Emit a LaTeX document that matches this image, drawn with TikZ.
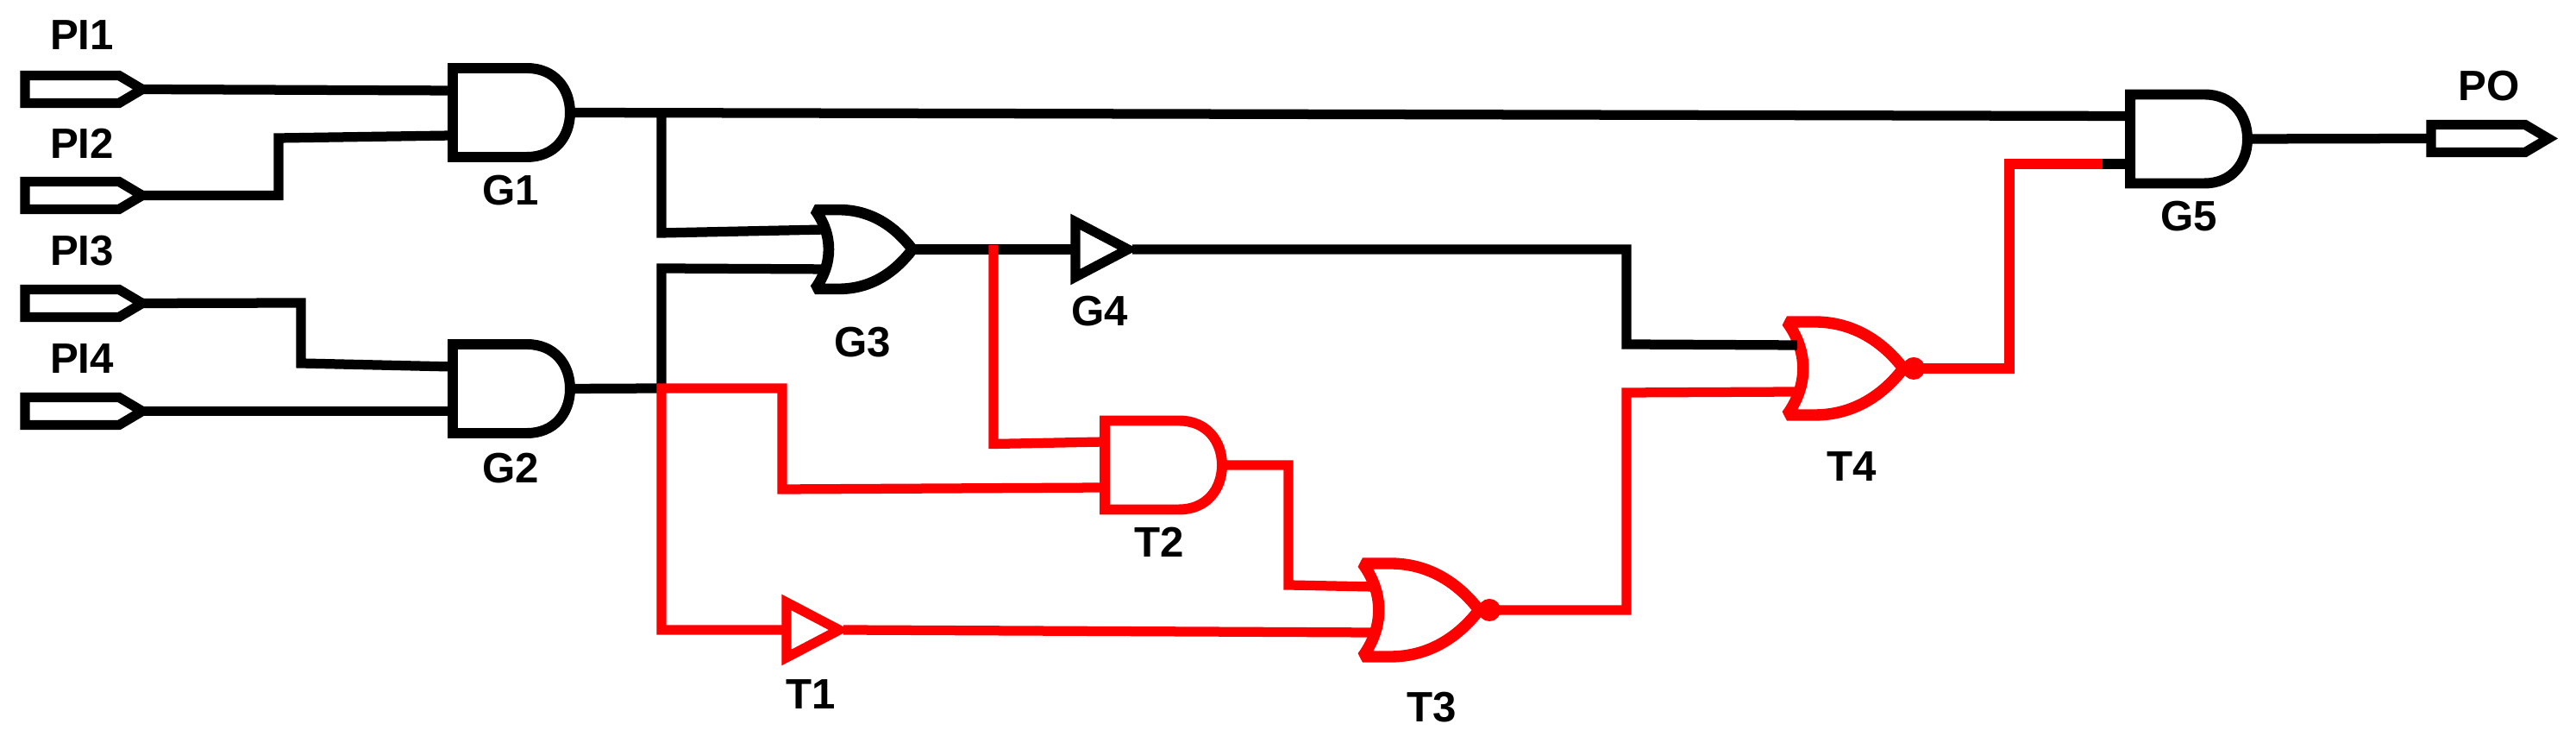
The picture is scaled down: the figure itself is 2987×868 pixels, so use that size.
\documentclass[tikz,border=0pt]{standalone}
\usepackage{fontspec}
\setmainfont{Liberation Sans}
\tikzset{
  wire/.style={line width=3.2pt,miter limit=10},
  redwire/.style={wire,color=red},
  lab/.style={inner sep=0pt,font=\fontsize{14}{15}\selectfont\bfseries,text=black},
  pics/andg/.style={code={
    \draw[wire,line width=3.4pt] (0,-51.5) -- (86,-51.5) .. controls (118,-51.5) and (136,-28) .. (136,0)
      .. controls (136,28) and (118,51.5) .. (86,51.5) -- (0,51.5) -- cycle;
    \coordinate (-a) at (0,-26);
    \coordinate (-b) at (0,26);
    \coordinate (-o) at (136,0);
  }},
  pics/org/.style={code={
    \draw[wire,line width=3.6pt,miter limit=1.5] (0,-54) -- (32,-54) .. controls (78,-54) and (110,-30) .. (133,0)
      .. controls (110,30) and (78,54) .. (32,54) -- (0,54)
      .. controls (25,20) and (25,-20) .. (0,-54) -- cycle;
    \coordinate (-a) at (12,-27);
    \coordinate (-b) at (12,27);
    \coordinate (-o) at (133,0);
  }},
  pics/norg/.style={code={
    \draw[wire,line width=3.8pt,miter limit=1.5] (0,-54) -- (32,-54) .. controls (78,-54) and (112,-30) .. (135,0)
      .. controls (112,30) and (78,54) .. (32,54) -- (0,54)
      .. controls (25,20) and (25,-20) .. (0,-54) -- cycle;
    \fill (147,0) circle (13);
    \coordinate (-a) at (12,-27);
    \coordinate (-b) at (12,27);
    \coordinate (-o) at (147,0);
  }},
  pics/buf/.style={code={
    \draw[wire] (0,-32) -- (61,0) -- (0,32) -- cycle;
    \coordinate (-a) at (0,0);
    \coordinate (-o) at (66,0);
  }},
  pics/port/.style={code={
    \draw[wire] (0,-16) -- (109,-16) -- (136,0) -- (109,16) -- (0,16) -- cycle;
    \coordinate (-a) at (0,0);
    \coordinate (-o) at (136,0);
  }},
}
\begin{document}
\begin{tikzpicture}[x=0.01cm,y=-0.01cm]
\useasboundingbox (0,0) rectangle (2987,868);
% gates
\pic (PI1) at (29,103.5) {port};
\pic (PI2) at (29,226.5) {port};
\pic (PI3) at (29,351.5) {port};
\pic (PI4) at (29,476.5) {port};
\pic (PO) at (2819,160.5) {port};
\pic (G1) at (525,130.5) {andg};
\pic (G2) at (525,450.5) {andg};
\pic[scale=0.85] (G3) at (945,289) {org};
\pic (G4) at (1247,289) {buf};
\pic (G5) at (2470,161) {andg};
\pic[red] (T1) at (912,730) {buf};
\pic[red] (T2) at (1281,539) {andg};
\pic[red] (T3) at (1580,707) {norg};
\pic[red] (T4) at (2072,427) {norg};
% free points of the wires
\coordinate (n1) at (767,132);
\coordinate (n2) at (767,450);
\coordinate (n4) at (2438,190);
% black wires
\draw[wire] (PI1-o) -- (525,105);
\draw[wire] (PI2-o) -- (323,226.5) -- (323,160) -- (525,157);
\draw[wire] (PI3-o) -- (349,351) -- (349,421) -- (525,425);
\draw[wire] (PI4-o) -- (525,476.5);
\draw[wire] (G1-o) -- (2470,134.5);
\draw[wire] (n1) -- (767,270) -- (G3-a);
\draw[wire] (n2) -- (767,311) -- (G3-b);
\draw[wire] (G2-o) -- (n2);
\draw[wire] (G3-o) -- (G4-a);
\draw[wire] (G4-o) -- (1886,289) -- (1886,399) -- (T4-a);
\draw[wire] (n4) -- (2470,190);
\draw[wire] (G5-o) -- (PO-a);
% red wires
\draw[redwire] (T1-a) -- (767,730) -- (n2) -- (907,450) -- (907,567) -- (1281,565);
\draw[redwire] (1152,284) -- (1152,514.5) -- (1281,512);
\draw[redwire] (T1-o) -- (1590,733);
\draw[redwire] (T2-o) -- (1494,539) -- (1494,678) -- (T3-a);
\draw[redwire] (T3-o) -- (1886,707) -- (1886,455) -- (T4-b);
\draw[redwire] (T4-o) -- (2330,427) -- (2330,190) -- (n4);
% labels
\node[lab] (lPI1) at (95,41) {PI1};
\node[lab] (lPI2) at (95,166) {PI2};
\node[lab] (lPI3) at (95,291) {PI3};
\node[lab] (lPI4) at (95,416) {PI4};
\node[lab] (lG1) at (592,221) {G1};
\node[lab] (lG2) at (592,543) {G2};
\node[lab] (lG3) at (1000,397) {G3};
\node[lab] (lG4) at (1275,361) {G4};
\node[lab] (lG5) at (2538,251) {G5};
\node[lab] (lT1) at (940,805) {T1};
\node[lab] (lT2) at (1344,628) {T2};
\node[lab] (lT3) at (1660,820) {T3};
\node[lab] (lT4) at (2147,541) {T4};
\node[lab] (lPO) at (2886,100) {PO};
\end{tikzpicture}
\end{document}
